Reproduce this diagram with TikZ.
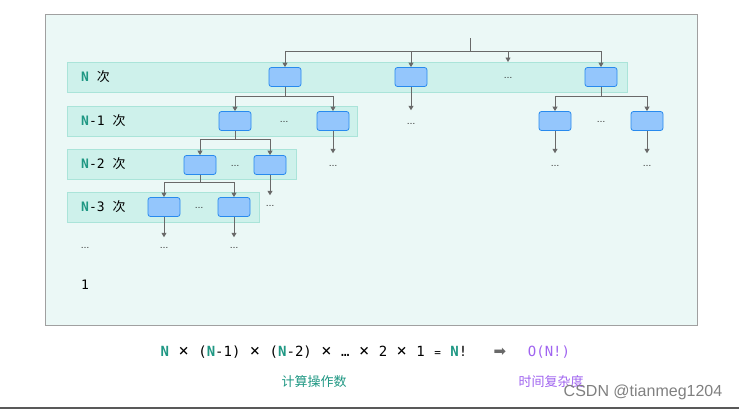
\documentclass[tikz,border=0pt]{standalone}
\usepackage{fontspec}
\setmainfont{DejaVu Sans}
\setmonofont{DejaVu Sans Mono}
\newfontfamily\cjk{Noto Sans CJK SC}
\newfontfamily\wmfont{Liberation Sans}
\usetikzlibrary{arrows.meta, positioning}
\definecolor{bgfill}{RGB}{235,248,246}
\definecolor{bgline}{RGB}{160,160,160}
\definecolor{bandfill}{RGB}{206,241,235}
\definecolor{bandline}{RGB}{170,228,217}
\definecolor{boxfill}{RGB}{148,198,252}
\definecolor{boxline}{RGB}{40,138,238}
\definecolor{linegray}{RGB}{105,105,105}
\definecolor{tealtxt}{RGB}{32,152,132}
\definecolor{purpletxt}{RGB}{160,100,240}
\newcommand{\nn}{\textcolor{tealtxt}{\textbf{N}}}
\newcommand{\gap}{\hspace{9.5pt}}
\newcommand{\tms}{{\fontsize{17}{17}\selectfont ×}}

\begin{document}
\begin{tikzpicture}[
  x=1pt, y=-1pt,
  band/.style={draw=bandline, fill=bandfill, line width=0.8pt, minimum height=30pt,
               anchor=west, inner sep=0pt},
  call/.style={draw=boxline, fill=boxfill, line width=0.8pt, rounded corners=2.5pt,
               minimum width=32pt, minimum height=19pt, inner sep=0pt},
  lvl/.style={anchor=west, font=\ttfamily\fontsize{13}{15}\selectfont, inner sep=0pt},
  dots/.style={font=\fontsize{8.5}{9}\selectfont, text=black!85, inner sep=0pt},
  link/.style={draw=linegray, line width=0.9pt, -{Triangle[width=5pt,length=4.5pt]}},
]
  \useasboundingbox (0,0) rectangle (739,410);
  \fill[white] (0,0) rectangle (739,410);
  \draw[bgline, fill=bgfill, line width=0.8pt] (45,14) rectangle (697,325);

  % levels
  \node[band, minimum width=560pt] (r1) at (67,77.5) {};
  \node[band, minimum width=290pt] (r2) at (67,121) {};
  \node[band, minimum width=229pt] (r3) at (67,164) {};
  \node[band, minimum width=192pt] (r4) at (67,207) {};
  \node[lvl] (l1) at (81,77) {\nn\ {\cjk 次}};
  \node[lvl] (l2) at (81,121) {\nn-1 {\cjk 次}};
  \node[lvl] (l3) at (81,164) {\nn-2 {\cjk 次}};
  \node[lvl] (l4) at (81,207) {\nn-3 {\cjk 次}};
  \node[dots] (l5) at (85,248) {…};
  \node[lvl, anchor=center] (l6) at (85,285) {1};

  % calls
  \node[call] (b11) at (285,77) {};
  \node[call] (b12) at (411,77) {};
  \node[dots] (d11) at (508,78) {…};
  \node[call] (b14) at (601,77) {};
  \node[call] (b21) at (235,121) {};
  \node[dots] (d21) at (284,122) {…};
  \node[call] (b22) at (333,121) {};
  \node[call] (b23) at (555,121) {};
  \node[dots] (d23) at (601,122) {…};
  \node[call] (b24) at (647,121) {};
  \node[call] (b31) at (200,165) {};
  \node[dots] (d31) at (235,166) {…};
  \node[call] (b32) at (270,165) {};
  \node[call] (b41) at (164,207) {};
  \node[dots] (d41) at (199,208) {…};
  \node[call] (b42) at (234,207) {};

  % leaves
  \node[dots] (e12) at (411,124) {…};
  \node[dots] (e22) at (333,166) {…};
  \node[dots] (e23) at (555,166) {…};
  \node[dots] (e24) at (647,166) {…};
  \node[dots] (e32) at (270,206) {…};
  \node[dots] (e41) at (164,248) {…};
  \node[dots] (e42) at (234,248) {…};

  % tree
  \coordinate (root) at (470,38);
  \coordinate (t11) at (508,62);
  \draw[link] (root) -- ++(0,13) -| (b11.north);
  \draw[link] (root) -- ++(0,13) -| (b12.north);
  \draw[link] (root) -- ++(0,13) -| (t11);
  \draw[link] (root) -- ++(0,13) -| (b14.north);
  \draw[link] (b11.south) -- ++(0,10) -| (b21.north);
  \draw[link] (b11.south) -- ++(0,10) -| (b22.north);
  \draw[link] (b14.south) -- ++(0,10) -| (b23.north);
  \draw[link] (b14.south) -- ++(0,10) -| (b24.north);
  \draw[link] (b21.south) -- ++(0,9) -| (b31.north);
  \draw[link] (b21.south) -- ++(0,9) -| (b32.north);
  \draw[link] (b31.south) -- ++(0,8) -| (b41.north);
  \draw[link] (b31.south) -- ++(0,8) -| (b42.north);
  \draw[link, shorten >=13pt] (b12.south) -- (e12);
  \draw[link, shorten >=12pt] (b22.south) -- (e22);
  \draw[link, shorten >=12pt] (b23.south) -- (e23);
  \draw[link, shorten >=12pt] (b24.south) -- (e24);
  \draw[link, shorten >=10pt] (b32.south) -- (e32);
  \draw[link, shorten >=10pt] (b41.south) -- (e41);
  \draw[link, shorten >=10pt] (b42.south) -- (e42);

  % formula
  \node[font=\ttfamily\fontsize{14}{16}\selectfont, inner sep=0pt] (sum) at (314,352)
    {\nn\gap\tms\gap(\nn-1)\gap\tms\gap(\nn-2)\gap\tms\gap…\gap\tms\gap2\gap\tms\gap1\gap{\fontsize{11}{11}\selectfont=}\gap\nn!};
  \node[font=\fontsize{15}{16}\selectfont, text=linegray, inner sep=0pt] (go) at (500,352) {➡};
  \node[font=\ttfamily\fontsize{14}{16}\selectfont, text=purpletxt, inner sep=0pt] (big) at (549,352) {O(N!)};
  \node[font=\cjk\fontsize{13}{15}\selectfont, text=tealtxt, inner sep=0pt] (ops) at (314,382) {计算操作数};
  \node[font=\cjk\fontsize{13}{15}\selectfont, text=purpletxt, inner sep=0pt] (cplx) at (551,382) {时间复杂度};
  \node[font=\wmfont\fontsize{16}{18}\selectfont, text=black!50, inner sep=0pt] (wm) at (643,392) {CSDN @tianmeg1204};
  \draw[black!65, line width=2pt] (0,408) -- (739,408);
\end{tikzpicture}
\end{document}
